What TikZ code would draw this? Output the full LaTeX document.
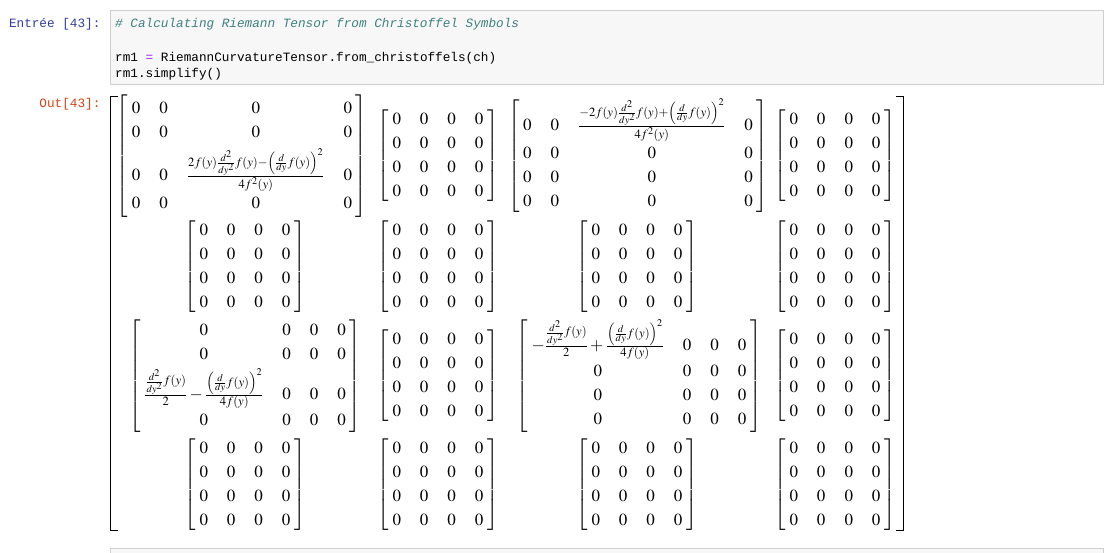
\documentclass[tikz,border=0pt]{standalone}
\usepackage{amsmath}
\usepackage{mathptmx}
\usepackage{fontspec}
\newfontfamily\codefont{Liberation Mono}
\definecolor{inblue}{HTML}{303F9F}
\definecolor{outred}{HTML}{D84315}
\definecolor{cmt}{HTML}{408080}
\definecolor{cellbg}{HTML}{F7F7F7}
\definecolor{cellbd}{HTML}{CFCFCF}
\definecolor{opc}{HTML}{AA22FF}
\tikzset{prompt/.style={font=\codefont\fontsize{12.7}{14}\selectfont, anchor=east},
 code/.style={font=\codefont\fontsize{12.7}{14}\selectfont, anchor=west, inner sep=0pt},
 mat/.style={inner sep=0pt}}
\newenvironment{bmx}{\left[\;\begin{matrix}}{\end{matrix}\;\right]}
\newcommand{\mt}[1]{{\fontsize{17}{20}\selectfont\arraycolsep=9.5pt\renewcommand{\arraystretch}{1.2}$#1$}}
\newcommand{\zm}{\mt{\begin{bmx}0&0&0&0\\0&0&0&0\\0&0&0&0\\0&0&0&0\end{bmx}}}
\begin{document}
\begin{tikzpicture}[x=1pt,y=-1pt]
\useasboundingbox (0,0) rectangle (1112,552);
\fill[white] (0,0) rectangle (1112,552);
\node[prompt, text=inblue] (pin) at (104,24) {Entrée [43]:};
\draw[cellbd, fill=cellbg] (110,10) rectangle (1103,84);
\node[code, text=cmt] (c1) at (115,24) {\itshape \# Calculating Riemann Tensor from Christoffel Symbols};
\node[code] (c2) at (115,58) {rm1 {\color{opc}=} RiemannCurvatureTensor.from\_christoffels(ch)};
\node[code] (c3) at (115,74) {rm1.simplify()};
\node[prompt, text=outred] (pout) at (104,104) {Out[43]:};
% outer bracket
\draw[line width=0.8pt] (118,96) -- (110.5,96) -- (110.5,530) -- (118,530);
\draw[line width=0.8pt] (896,96) -- (903.5,96) -- (903.5,530) -- (896,530);
\begin{scope}[every node/.style={mat}]
\node (m11) at (242,156) {\mt{\begin{bmx}0&0&0&0\\0&0&0&0\\[4pt]0&0&\frac{2f(y)\frac{d^2}{dy^2}f(y)-\left(\frac{d}{dy}f(y)\right)^2}{4f^2(y)}&0\\[2pt]0&0&0&0\end{bmx}}};
\node (m12) at (438,156) {\zm};
\node (m13) at (638,156) {\mt{\begin{bmx}0&0&\frac{-2f(y)\frac{d^2}{dy^2}f(y)+\left(\frac{d}{dy}f(y)\right)^2}{4f^2(y)}&0\\[2pt]0&0&0&0\\0&0&0&0\\0&0&0&0\end{bmx}}};
\node (m14) at (835,156) {\zm};
\node (m21) at (245,267) {\zm};
\node (m22) at (438,267) {\zm};
\node (m23) at (637,267) {\zm};
\node (m24) at (835,267) {\zm};
\node (m31) at (245,376) {\mt{\begin{bmx}0&0&0&0\\0&0&0&0\\[2pt]\frac{\frac{d^2}{dy^2}f(y)}{2}-\frac{\left(\frac{d}{dy}f(y)\right)^2}{4f(y)}&0&0&0\\[2pt]0&0&0&0\end{bmx}}};
\node (m32) at (438,376) {\zm};
\node (m33) at (639,376) {\mt{\begin{bmx}-\frac{\frac{d^2}{dy^2}f(y)}{2}+\frac{\left(\frac{d}{dy}f(y)\right)^2}{4f(y)}&0&0&0\\[2pt]0&0&0&0\\0&0&0&0\\0&0&0&0\end{bmx}}};
\node (m34) at (835,376) {\zm};
\node (m41) at (245,485) {\zm};
\node (m42) at (438,485) {\zm};
\node (m43) at (637,485) {\zm};
\node (m44) at (835,485) {\zm};
\end{scope}
\draw[cellbd, fill=cellbg] (110,548) rectangle (1103,560);
\end{tikzpicture}
\end{document}
